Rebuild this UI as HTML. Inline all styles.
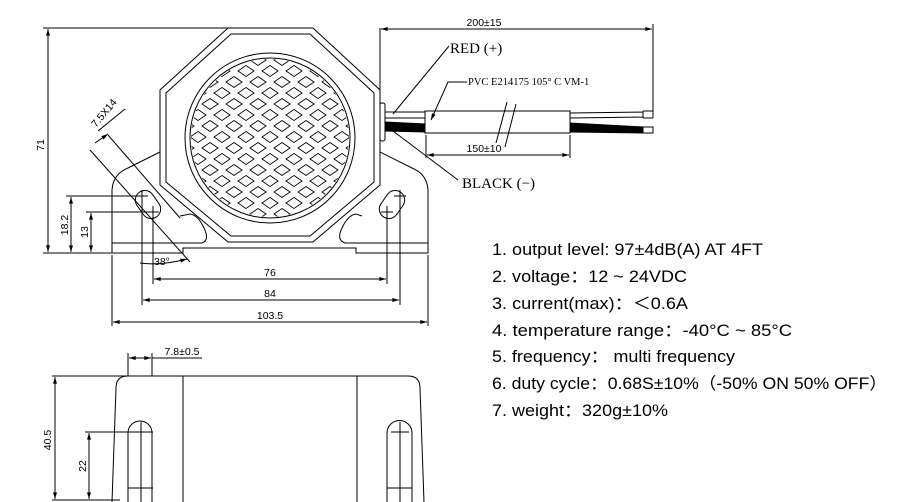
<!DOCTYPE html>
<html><head><meta charset="utf-8"><style>html,body{margin:0;padding:0;background:#fff;width:900px;height:502px;overflow:hidden}</style></head>
<body>
<svg width="900" height="502" viewBox="0 0 900 502" xmlns="http://www.w3.org/2000/svg">
<defs>
<marker id="a" viewBox="0 0 10 6" refX="10" refY="3" markerWidth="8" markerHeight="4" orient="auto-start-reverse"><path d="M0,0 L10,3 L0,6 z" fill="#000"/></marker>
<pattern id="mesh" width="24" height="22" patternUnits="userSpaceOnUse" x="6" y="5">
<g fill="#fff" stroke="#000" stroke-width="0.9">
<polygon points="12,5.5 20,11 12,16.5 4,11"/>
<polygon points="0,-5.5 8,0 0,5.5 -8,0"/><polygon points="24,-5.5 32,0 24,5.5 16,0"/>
<polygon points="0,16.5 8,22 0,27.5 -8,22"/><polygon points="24,16.5 32,22 24,27.5 16,22"/>
</g></pattern>
<clipPath id="cc"><circle cx="270" cy="138" r="79"/></clipPath>
</defs>
<g fill="none" stroke="#000" stroke-width="1">
<line x1="43" y1="28" x2="230" y2="28"/><line x1="43" y1="253" x2="112" y2="253"/>
<line x1="48" y1="29" x2="48" y2="252" marker-start="url(#a)" marker-end="url(#a)"/>
<polygon points="228,28 313,28 380,90 380,185 313,242 228,242 160,185 160,90"/>
<polygon points="231,34 310,34 374,93 374,182 310,236 231,236 166,182 166,93"/>
<circle cx="270" cy="138" r="85"/><circle cx="270" cy="138" r="80"/>
<rect x="185" y="55" width="170" height="170" fill="url(#mesh)" stroke="none" clip-path="url(#cc)"/>
<path d="M160,152 L128,168 Q113,174 112,190 L112,253 L183,253 L183,248 L356,248 L356,253 L428,253 L428,190 Q427,174 412,168 L380,152"/>
<line x1="112" y1="243" x2="202" y2="243"/><line x1="345" y1="243" x2="428" y2="243"/>
<path d="M202,243 Q210,240 204,228 Q198,215 190,214 L180,216"/>
<path d="M345,243 Q336,240 342,228 Q348,215 356,214 L362,216"/>
<g transform="rotate(55 147 204)"><rect x="133" y="194" width="30" height="19" rx="9.5"/></g>
<g transform="rotate(-55 393 204)"><rect x="377" y="194" width="30" height="19" rx="9.5"/></g>
<path d="M136,196 H148 M142,190 V202 M147,212 H159 M153,206 V218 M394,196 H406 M400,190 V202 M381,212 H393 M387,206 V218"/>
<line x1="66" y1="196" x2="148" y2="196"/><line x1="86" y1="212" x2="159" y2="212"/>
<line x1="71" y1="197" x2="71" y2="252" marker-start="url(#a)" marker-end="url(#a)"/>
<line x1="91" y1="213" x2="91" y2="252" marker-start="url(#a)" marker-end="url(#a)"/>
<line x1="90" y1="150" x2="190" y2="262"/><line x1="108" y1="135" x2="180" y2="218"/>
<line x1="95" y1="143" x2="108" y2="134" marker-end="url(#a)"/>
<line x1="98" y1="131" x2="125" y2="109"/>
<path d="M140,263 Q160,266 187,259" marker-end="url(#a)"/>
<line x1="142" y1="200" x2="142" y2="305"/><line x1="153" y1="212" x2="153" y2="284"/>
<line x1="387" y1="212" x2="387" y2="284"/><line x1="400" y1="200" x2="400" y2="305"/>
<line x1="112" y1="255" x2="112" y2="326"/><line x1="428" y1="255" x2="428" y2="326"/>
<line x1="154" y1="279" x2="386" y2="279" marker-start="url(#a)" marker-end="url(#a)"/>
<line x1="143" y1="300" x2="399" y2="300" marker-start="url(#a)" marker-end="url(#a)"/>
<line x1="113" y1="322" x2="427" y2="322" marker-start="url(#a)" marker-end="url(#a)"/>
<rect x="380" y="103" width="5" height="38" rx="2"/>
<line x1="380" y1="28" x2="380" y2="103"/><line x1="653" y1="24" x2="653" y2="118"/>
<line x1="381" y1="29" x2="652" y2="29" marker-start="url(#a)" marker-end="url(#a)"/>
<path d="M385,112 L425,112 M385,118 L425,118 M570,113 L643,112 M570,118 L643,117 M643,111 V118 M643,111 H653 M643,118 H653"/>
<path d="M385,122 L425,124 L425,132 L385,131 Z M570,123 L643,127 L643,133 L570,132 Z" fill="#000"/>
<path d="M643,127 H653 V133 H643"/>
<rect x="425" y="111" width="145" height="22" fill="#fff"/>
<line x1="426" y1="135" x2="426" y2="158"/><line x1="570" y1="135" x2="570" y2="158"/>
<line x1="427" y1="155" x2="569" y2="155" marker-start="url(#a)" marker-end="url(#a)"/>
<line x1="496" y1="143" x2="507" y2="102"/><line x1="505" y1="147" x2="516" y2="104"/>
<line x1="393" y1="114" x2="449" y2="46"/>
<line x1="393" y1="131" x2="458" y2="180"/>
<path d="M467,82 H448 L431,120" marker-end="url(#a)"/>
<line x1="52" y1="376" x2="128" y2="376"/>
<path d="M112,502 L116,388 Q116,376 128,376 L408,376 Q420,376 420,388 L424,502"/>
<line x1="183" y1="376" x2="183" y2="502"/><line x1="357" y1="376" x2="357" y2="502"/>
<path d="M128,502 V433 A12,12 0 0 1 152,433 V502 M128,488 H153 M141,422 V502 M128,432 H153"/>
<path d="M387,502 V433 A12,12 0 0 1 412,433 V502 M387,488 H412 M400,422 V502 M391,432 H409"/>
<line x1="85" y1="432" x2="128" y2="432"/>
<line x1="55" y1="377" x2="55" y2="499" marker-start="url(#a)" marker-end="url(#a)"/>
<line x1="89" y1="433" x2="89" y2="499" marker-start="url(#a)" marker-end="url(#a)"/>
<line x1="52" y1="500" x2="120" y2="500"/>
<line x1="128" y1="353" x2="128" y2="376"/><line x1="152" y1="353" x2="152" y2="376"/>
<line x1="129" y1="358" x2="151" y2="358" marker-start="url(#a)" marker-end="url(#a)"/>
<line x1="152" y1="358" x2="202" y2="358"/>
</g>
<g font-family="Liberation Sans, sans-serif" font-size="10.5" fill="#000">
<text x="0" y="0" transform="translate(44,145) rotate(-90)" text-anchor="middle">71</text>
<text x="0" y="0" transform="translate(68,225) rotate(-90)" text-anchor="middle">18.2</text>
<text x="0" y="0" transform="translate(88,232) rotate(-90)" text-anchor="middle">13</text>
<text x="0" y="0" transform="translate(96,128) rotate(-50)">7.5X14</text>
<text x="154" y="265">38°</text>
<text x="270" y="276" text-anchor="middle">76</text>
<text x="270" y="297" text-anchor="middle">84</text>
<text x="270" y="319" text-anchor="middle">103.5</text>
<text x="484" y="26" text-anchor="middle">200±15</text>
<text x="484" y="152" text-anchor="middle">150±10</text>
<text x="182" y="355" text-anchor="middle">7.8±0.5</text>
<text x="0" y="0" transform="translate(51,440) rotate(-90)" text-anchor="middle">40.5</text>
<text x="0" y="0" transform="translate(86,466) rotate(-90)" text-anchor="middle">22</text>
</g>
<g font-family="Liberation Serif, serif" fill="#000">
<text x="450" y="53" font-size="15">RED (+)</text>
<text x="468" y="85" font-size="10.5">PVC E214175 105° C VM-1</text>
<text x="462" y="188" font-size="15">BLACK (−)</text>
</g>
<g font-family="Liberation Sans, 'Noto Sans CJK SC', sans-serif" font-size="16.5" fill="#000">
<text x="492" y="255" textLength="271" lengthAdjust="spacingAndGlyphs">1. output level: 97±4dB(A) AT 4FT</text>
<text x="492" y="282" textLength="195" lengthAdjust="spacingAndGlyphs">2. voltage：12 ~ 24VDC</text>
<text x="492" y="309" textLength="196" lengthAdjust="spacingAndGlyphs">3. current(max)：＜0.6A</text>
<text x="492" y="336" textLength="300" lengthAdjust="spacingAndGlyphs">4. temperature range：-40°C ~ 85°C</text>
<text x="492" y="362" textLength="243" lengthAdjust="spacingAndGlyphs">5. frequency： multi frequency</text>
<text x="492" y="389" textLength="395" lengthAdjust="spacingAndGlyphs">6. duty cycle：0.68S±10%（-50% ON 50% OFF）</text>
<text x="492" y="416" textLength="176" lengthAdjust="spacingAndGlyphs">7. weight：320g±10%</text>
</g>
</svg>
</body></html>
